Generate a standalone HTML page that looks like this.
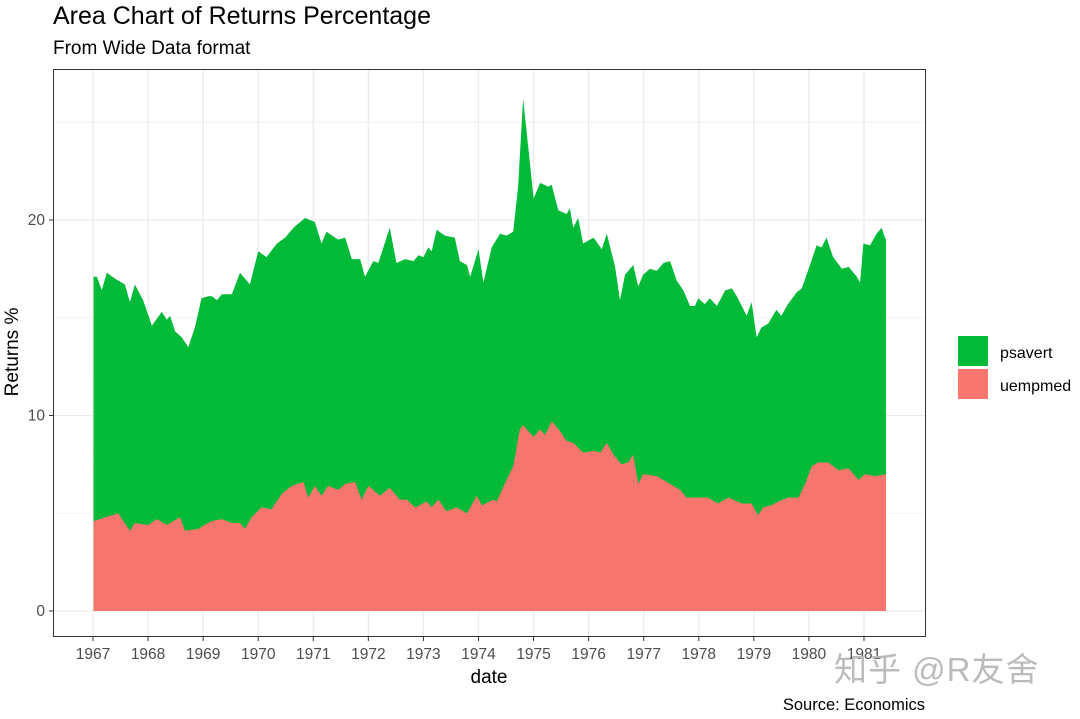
<!DOCTYPE html>
<html><head><meta charset="utf-8">
<style>
body{margin:0;background:#fff;}
svg text{font-family:"Liberation Sans","Noto Sans CJK SC",sans-serif;}
</style></head>
<body>
<svg id="chart" width="1080" height="714" viewBox="0 0 1080 714" xmlns="http://www.w3.org/2000/svg">
<text x="53" y="24" font-size="25" fill="#000">Area Chart of Returns Percentage</text>
<text x="53" y="54" font-size="19" fill="#000">From Wide Data format</text>
<g id="grid"></g>
<g id="areas"></g>
<rect x="53.5" y="69.5" width="872" height="567" fill="none" stroke="#333" stroke-width="1"/>
<g id="xaxis"></g>
<g id="yaxis"></g>
<text x="489" y="683" font-size="19" text-anchor="middle" fill="#000">date</text>
<text transform="translate(18,352) rotate(-90)" font-size="19" text-anchor="middle" fill="#000">Returns %</text>
<g>
<rect x="958" y="336" width="30" height="30" fill="#00ba38"/>
<text x="1000" y="358" font-size="16" fill="#000">psavert</text>
<rect x="958" y="369" width="30" height="30" fill="#f8766d"/>
<text x="1000" y="391" font-size="16" fill="#000">uempmed</text>
</g>
<text x="925" y="710" font-size="16.5" text-anchor="end" fill="#000">Source: Economics</text>
<text x="834" y="681" font-size="33" letter-spacing="1" fill="#bbb">知乎 @R友舍</text>
</svg>
<script>
const xTicks = [1967,1968,1969,1970,1971,1972,1973,1974,1975,1976,1977,1978,1979,1980,1981];
const yTicks = [0,10,20];
const yMinor = [5,15,25];
const totalDates = [1967.01,1967.07,1967.16,1967.25,1967.40,1967.58,1967.67,1967.76,1967.91,1968.07,1968.25,1968.34,1968.40,1968.49,1968.61,1968.73,1968.85,1968.97,1969.09,1969.16,1969.25,1969.34,1969.52,1969.67,1969.85,1970.00,1970.15,1970.34,1970.49,1970.64,1970.85,1971.03,1971.15,1971.24,1971.45,1971.58,1971.70,1971.85,1971.94,1972.09,1972.18,1972.39,1972.51,1972.67,1972.82,1972.91,1973.00,1973.09,1973.15,1973.24,1973.39,1973.57,1973.66,1973.79,1973.85,1974.00,1974.09,1974.24,1974.39,1974.51,1974.63,1974.72,1974.81,1974.90,1975.00,1975.12,1975.27,1975.33,1975.45,1975.60,1975.66,1975.72,1975.81,1975.90,1976.09,1976.24,1976.33,1976.48,1976.57,1976.66,1976.81,1976.90,1976.99,1977.11,1977.24,1977.36,1977.48,1977.60,1977.72,1977.84,1977.93,1977.99,1978.11,1978.20,1978.33,1978.48,1978.60,1978.69,1978.87,1978.96,1979.05,1979.14,1979.26,1979.41,1979.50,1979.62,1979.78,1979.87,1980.02,1980.14,1980.23,1980.32,1980.44,1980.60,1980.72,1980.87,1980.93,1980.99,1981.11,1981.23,1981.32,1981.38,1981.40];
const totalValues = [17.1,17.1,16.4,17.3,17.0,16.7,15.8,16.7,15.9,14.6,15.3,14.9,15.1,14.3,14.0,13.5,14.5,16.0,16.1,16.1,15.9,16.2,16.2,17.3,16.7,18.4,18.1,18.8,19.1,19.6,20.1,19.9,18.8,19.4,19.0,19.1,18.0,18.0,17.1,17.9,17.8,19.6,17.8,18.0,17.9,18.2,18.1,18.6,18.4,19.5,19.2,19.1,17.9,17.7,17.1,18.5,16.8,18.6,19.3,19.2,19.4,21.7,26.2,23.8,21.1,21.9,21.7,21.8,20.5,20.3,20.6,19.6,20.1,18.8,19.1,18.5,19.3,17.6,15.9,17.2,17.7,16.6,17.2,17.5,17.4,17.8,17.9,16.9,16.4,15.6,15.6,16.0,15.7,16.0,15.6,16.4,16.5,16.1,15.1,15.8,14.0,14.5,14.7,15.4,15.1,15.7,16.3,16.5,17.7,18.7,18.6,19.1,18.1,17.5,17.6,17.1,16.8,18.8,18.7,19.3,19.6,19.1,19.0];
const uempDates = [1967.01,1967.22,1967.46,1967.67,1967.76,1968.00,1968.16,1968.34,1968.58,1968.67,1968.91,1969.15,1969.34,1969.52,1969.67,1969.76,1969.88,1970.06,1970.24,1970.43,1970.61,1970.82,1970.91,1971.03,1971.15,1971.27,1971.45,1971.58,1971.76,1971.88,1972.00,1972.21,1972.39,1972.57,1972.70,1972.85,1973.06,1973.15,1973.27,1973.42,1973.60,1973.79,1973.97,1974.06,1974.27,1974.33,1974.51,1974.63,1974.75,1974.81,1975.00,1975.12,1975.21,1975.33,1975.48,1975.60,1975.72,1975.90,1976.09,1976.21,1976.33,1976.45,1976.60,1976.72,1976.81,1976.90,1976.99,1977.24,1977.48,1977.66,1977.78,1977.99,1978.17,1978.35,1978.54,1978.78,1978.96,1979.08,1979.17,1979.32,1979.44,1979.62,1979.81,1979.93,1980.05,1980.17,1980.35,1980.54,1980.72,1980.90,1981.02,1981.20,1981.40];
const uempValues = [4.6,4.8,5.0,4.1,4.5,4.4,4.7,4.4,4.8,4.1,4.2,4.6,4.7,4.5,4.5,4.2,4.8,5.3,5.2,6.0,6.4,6.6,5.8,6.4,5.9,6.4,6.2,6.5,6.6,5.7,6.4,5.9,6.3,5.7,5.7,5.3,5.6,5.3,5.7,5.1,5.3,5.0,5.9,5.4,5.7,5.6,6.7,7.4,9.3,9.5,8.9,9.3,9.0,9.7,9.2,8.7,8.6,8.1,8.2,8.1,8.6,8.0,7.5,7.6,8.0,6.5,7.0,6.9,6.5,6.2,5.8,5.8,5.8,5.5,5.8,5.5,5.5,4.9,5.3,5.4,5.6,5.8,5.8,6.5,7.4,7.6,7.6,7.2,7.3,6.7,7.0,6.9,7.0];

const NS = 'http://www.w3.org/2000/svg';
const x = v => 93 + (v - 1967) * 55.07;
const y = v => 611 - v * 19.55;
function mk(tag, attrs, parent){const e=document.createElementNS(NS,tag);for(const k in attrs)e.setAttribute(k,attrs[k]);parent.appendChild(e);return e;}
const grid=document.getElementById('grid'), areas=document.getElementById('areas');
const xa=document.getElementById('xaxis'), ya=document.getElementById('yaxis');

yMinor.forEach(v=>{
  const l=mk('line',{x1:54,x2:925,y1:y(v),y2:y(v),stroke:'#f2f2f2','stroke-width':1},grid);
  
  
});
yTicks.forEach(v=>{
  const l=mk('line',{x1:54,x2:925,y1:y(v),y2:y(v),stroke:'#ebebeb','stroke-width':1.3},grid);
  
  
  const t=mk('line',{x1:49,x2:53,y1:y(v),y2:y(v),stroke:'#333','stroke-width':1},ya);
  
  
  const tx=mk('text',{x:45,y:y(v)+5,'font-size':15.5,'text-anchor':'end',fill:'#4d4d4d'},ya);
  tx.textContent=v;
  
  
});
xTicks.forEach(v=>{
  const l=mk('line',{x1:x(v),x2:x(v),y1:70,y2:636,stroke:'#ebebeb','stroke-width':1.3},grid);
  
  
  const t=mk('line',{x1:x(v),x2:x(v),y1:637,y2:641,stroke:'#333','stroke-width':1},xa);
  
  
  const tx=mk('text',{x:x(v),y:659,'font-size':15.5,'text-anchor':'middle',fill:'#4d4d4d'},xa);
  tx.textContent=v;
  
  
});

function areaPath(ds, vs){
  let d='M'+x(ds[0])+','+y(0);
  ds.forEach((dv,i)=>{d+=' L'+x(dv).toFixed(1)+','+y(vs[i]).toFixed(1);});
  d+=' L'+x(ds[ds.length-1])+','+y(0)+' Z';
  return d;
}
const g=mk('path',{d:areaPath(totalDates,totalValues),fill:'#00ba38'},areas);


const r=mk('path',{d:areaPath(uempDates,uempValues),fill:'#f8766d'},areas);


</script>
</body></html>
